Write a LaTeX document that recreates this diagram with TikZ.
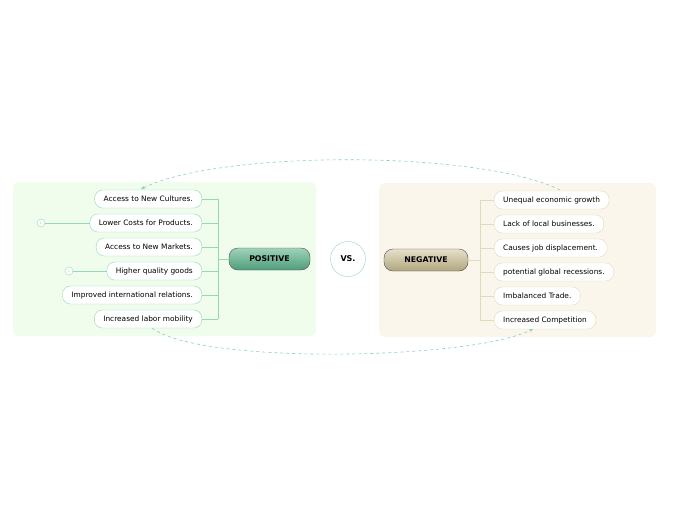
\documentclass[tikz,border=0pt]{standalone}
\usepackage{fontspec}
\setmainfont{DejaVu Sans}
\usetikzlibrary{arrows.meta}
\definecolor{gbg}{HTML}{F0FDEC}
\definecolor{tbg}{HTML}{FAF6EB}
\definecolor{gline}{HTML}{96D8B4}
\definecolor{tline}{HTML}{E2DAB8}
\definecolor{dline}{HTML}{86CFC0}
\definecolor{gtop}{HTML}{9FD3B8}
\definecolor{gbot}{HTML}{4E9C7C}
\definecolor{ttop}{HTML}{E6E0CA}
\definecolor{tbot}{HTML}{B0A67E}
\begin{document}
\begin{tikzpicture}[x=1pt,y=-1pt,
  leaf/.style={draw,fill=white,rounded corners=8pt,minimum height=18pt,inner xsep=9pt,inner ysep=0pt,font=\fontsize{7.4}{8}\selectfont},
  gleaf/.style={leaf,draw=gline,anchor=east},
  tleaf/.style={leaf,draw=tline,anchor=west},
  gconn/.style={draw=gline,line width=0.8pt},
  tconn/.style={draw=tline,line width=0.8pt},
  relline/.style={draw=dline,dashed,line width=0.6pt,-{Stealth[length=4pt,width=3pt]}},
  icon/.style={circle,draw=gline,fill=white,minimum size=8pt,inner sep=0pt,font=\fontsize{3.5}{4}\selectfont,text=gline}]
\useasboundingbox (0,0) rectangle (697,520);
\fill[gbg,rounded corners=6pt] (13,182) rectangle (316,336);
\fill[tbg,rounded corners=6pt] (379,183) rectangle (656,337);
% trunks
\draw[gconn] (218,199) -- (218,319);
\draw[tconn] (480,200) -- (480,320);
\node[gleaf] (l1) at (202,199) {Access to New Cultures.};
\node[gleaf] (l2) at (202,223) {Lower Costs for Products.};
\node[gleaf] (l3) at (202,247) {Access to New Markets.};
\node[gleaf] (l4) at (202,271) {Higher quality goods};
\node[gleaf] (l5) at (202,295) {Improved international relations.};
\node[gleaf] (l6) at (202,319) {Increased labor mobility};
\foreach \i in {1,...,6}{\draw[gconn] (l\i.east) -- (218,0|-l\i.east);}
\node[icon] (i1) at (41,223) {1};
\node[icon] (i2) at (69,271) {1};
\draw[gconn] (i1) -- (l2.west);
\draw[gconn] (i2) -- (l4.west);
\node[draw=black!70,rounded corners=9pt,minimum width=81pt,minimum height=22pt,top color=gtop,bottom color=gbot,font=\bfseries\fontsize{7.8}{9}\selectfont] (pos) at (269.5,259) {POSITIVE};
\draw[gconn] (pos.west) -- (218,259);
\node[circle,draw=gline,fill=white,minimum size=35pt,inner sep=0pt,font=\bfseries\fontsize{8}{9}\selectfont] (vs) at (348,259) {VS.};
\node[draw=black!70,rounded corners=9pt,minimum width=84pt,minimum height=22pt,top color=ttop,bottom color=tbot,font=\bfseries\fontsize{7.8}{9}\selectfont] (neg) at (426,260) {NEGATIVE};
\draw[tconn] (neg.east) -- (480,260);
\node[tleaf] (r1) at (494,200) {Unequal economic growth};
\node[tleaf] (r2) at (494,224) {Lack of local businesses.};
\node[tleaf] (r3) at (494,248) {Causes job displacement.};
\node[tleaf] (r4) at (494,272) {potential global recessions.};
\node[tleaf] (r5) at (494,296) {Imbalanced Trade.};
\node[tleaf] (r6) at (494,320) {Increased Competition};
\foreach \i in {1,...,6}{\draw[tconn] (r\i.west) -- (480,0|-r\i.west);}
\coordinate (ta) at (560,190);
\coordinate (tb) at (141,189);
\coordinate (ba) at (152,328);
\coordinate (bb) at (533,329);
\draw[relline] (ta) .. controls (480,150) and (220,150) .. (tb);
\draw[relline] (ba) .. controls (200,365) and (470,360) .. (bb);
\end{tikzpicture}
\end{document}
